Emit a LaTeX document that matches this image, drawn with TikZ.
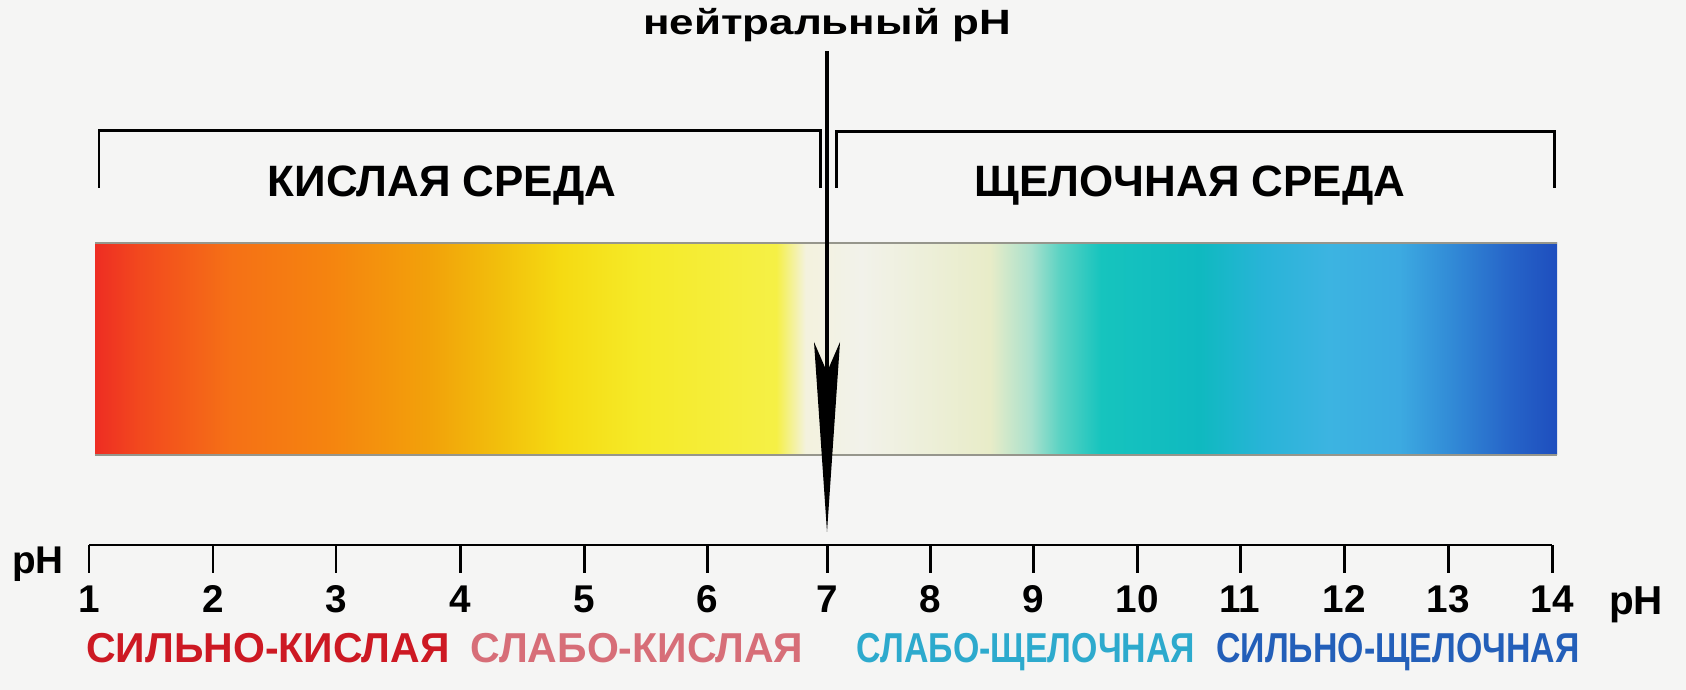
\documentclass[tikz,border=0pt]{standalone}
\usepackage{fontspec}
\setmainfont{Liberation Sans}
\newfontfamily\largefont{Liberation Sans}[FakeStretch=1.25]
\newfontfamily\etroitfont{Liberation Sans}[FakeStretch=0.98]
\newfontfamily\serrefont{Liberation Sans}[FakeStretch=0.81]
\usetikzlibrary{arrows.meta}

\definecolor{fond}{RGB}{245,245,244}
\definecolor{bordbarre}{RGB}{150,150,140}
\definecolor{fortacide}{RGB}{205,25,35}
\definecolor{faibleacide}{RGB}{215,110,120}
\definecolor{faiblebase}{RGB}{45,170,205}
\definecolor{fortbase}{RGB}{35,95,185}

% couleurs de la barre
\definecolor{p1}{RGB}{238,45,35}
\definecolor{p2}{RGB}{242,72,30}
\definecolor{p3}{RGB}{245,112,22}
\definecolor{p4}{RGB}{245,132,15}
\definecolor{p5}{RGB}{242,162,10}
\definecolor{p6}{RGB}{242,192,12}
\definecolor{p7}{RGB}{245,218,18}
\definecolor{p8}{RGB}{245,234,40}
\definecolor{p9}{RGB}{245,240,70}
\definecolor{p10}{RGB}{243,242,222}
\definecolor{p11}{RGB}{242,242,234}
\definecolor{p12}{RGB}{232,236,200}
\definecolor{p13}{RGB}{170,225,205}
\definecolor{p14}{RGB}{90,210,195}
\definecolor{p15}{RGB}{22,196,190}
\definecolor{p16}{RGB}{15,185,192}
\definecolor{p17}{RGB}{40,180,215}
\definecolor{p18}{RGB}{60,180,225}
\definecolor{p19}{RGB}{60,170,225}
\definecolor{p20}{RGB}{50,140,215}
\definecolor{p21}{RGB}{38,100,200}
\definecolor{p22}{RGB}{30,78,190}

\pgfdeclarehorizontalshading{echelleph}{100bp}{color(0bp)=(p1); color(25bp)=(p1);
  color(26.5bp)=(p2); color(29.6bp)=(p3); color(33bp)=(p4); color(36.5bp)=(p5);
  color(38.9bp)=(p6); color(40.9bp)=(p7); color(43.6bp)=(p8); color(48.3bp)=(p9);
  color(49.3bp)=(p10); color(51.2bp)=(p11); color(55.6bp)=(p12); color(57bp)=(p13);
  color(58bp)=(p14); color(59.4bp)=(p15); color(62.8bp)=(p16); color(64.9bp)=(p17);
  color(67.2bp)=(p18); color(69.6bp)=(p19); color(71.3bp)=(p20); color(73.4bp)=(p21);
  color(75bp)=(p22); color(100bp)=(p22)}

\begin{document}
\begin{tikzpicture}[
    txt/.style={inner sep=0pt, anchor=base},
    milieu/.style={txt, font=\bfseries\fontsize{12.5}{14}\selectfont},
    chiffre/.style={txt, font=\bfseries\fontsize{11}{13}\selectfont},
    zoneacide/.style={txt, font=\etroitfont\bfseries\fontsize{11.9}{14}\selectfont},
    zonebase/.style={txt, font=\serrefont\bfseries\fontsize{11.9}{14}\selectfont},
    trait/.style={line width=0.85pt},
    fleche/.style={line width=1.1pt, -{Stealth[length=1.9cm, width=0.26cm, inset=0.3cm, line width=0pt]}}
]
    \useasboundingbox[fill=fond] (0,0) rectangle (16.86,6.90);

    \shade[shading=echelleph] (0.95,2.35) rectangle (15.57,4.47); %barre
    \draw[bordbarre, line width=0.5pt] (0.95,4.47) -- (15.57,4.47) (0.95,2.35) -- (15.57,2.35);

    \draw[trait] (0.99,5.02) -- (0.99,5.59) -- (8.20,5.59) -- (8.20,5.02); %crochet acide
    \draw[trait] (8.36,5.02) -- (8.36,5.58) -- (15.54,5.58) -- (15.54,5.02); %crochet basique
    \node[milieu] (acide) at (4.42,4.93) {КИСЛАЯ СРЕДА};
    \node[milieu] (basique) at (11.90,4.93) {ЩЕЛОЧНАЯ СРЕДА};

    \draw[trait] (0.89,1.45) -- (15.52,1.45); %axe
    \foreach \x [count=\i] in {0.89,2.13,3.36,4.60,5.84,7.07,8.27,9.30,10.33,11.37,12.40,13.44,14.48,15.52}{
        \draw[trait] (\x,1.45) -- (\x,1.17);
        \node[chiffre] (n\i) at (\x,0.77) {\i};
    }
    \node[txt, font=\bfseries\fontsize{11}{13}\selectfont] (phgauche) at (0.38,1.16) {pH};
    \node[txt, font=\bfseries\fontsize{11.5}{13}\selectfont] (phdroite) at (16.36,0.76) {pH};

    \node[zoneacide, text=fortacide] (fa) at (2.68,0.27) {СИЛЬНО-КИСЛАЯ};
    \node[zoneacide, text=faibleacide] (fba) at (6.37,0.27) {СЛАБО-КИСЛАЯ};
    \node[zonebase, text=faiblebase] (fbb) at (10.26,0.27) {СЛАБО-ЩЕЛОЧНАЯ};
    \node[zonebase, text=fortbase] (fb) at (13.98,0.27) {СИЛЬНО-ЩЕЛОЧНАЯ};

    \node[txt, font=\largefont\bfseries\fontsize{10}{12}\selectfont] (neutre) at (8.27,6.55) {нейтральный pH};
    \coordinate (pointe) at (8.27,1.58);
    \draw[fleche, shorten <=0.08cm] (neutre.south) -- (pointe); %neutre
\end{tikzpicture}
\end{document}
